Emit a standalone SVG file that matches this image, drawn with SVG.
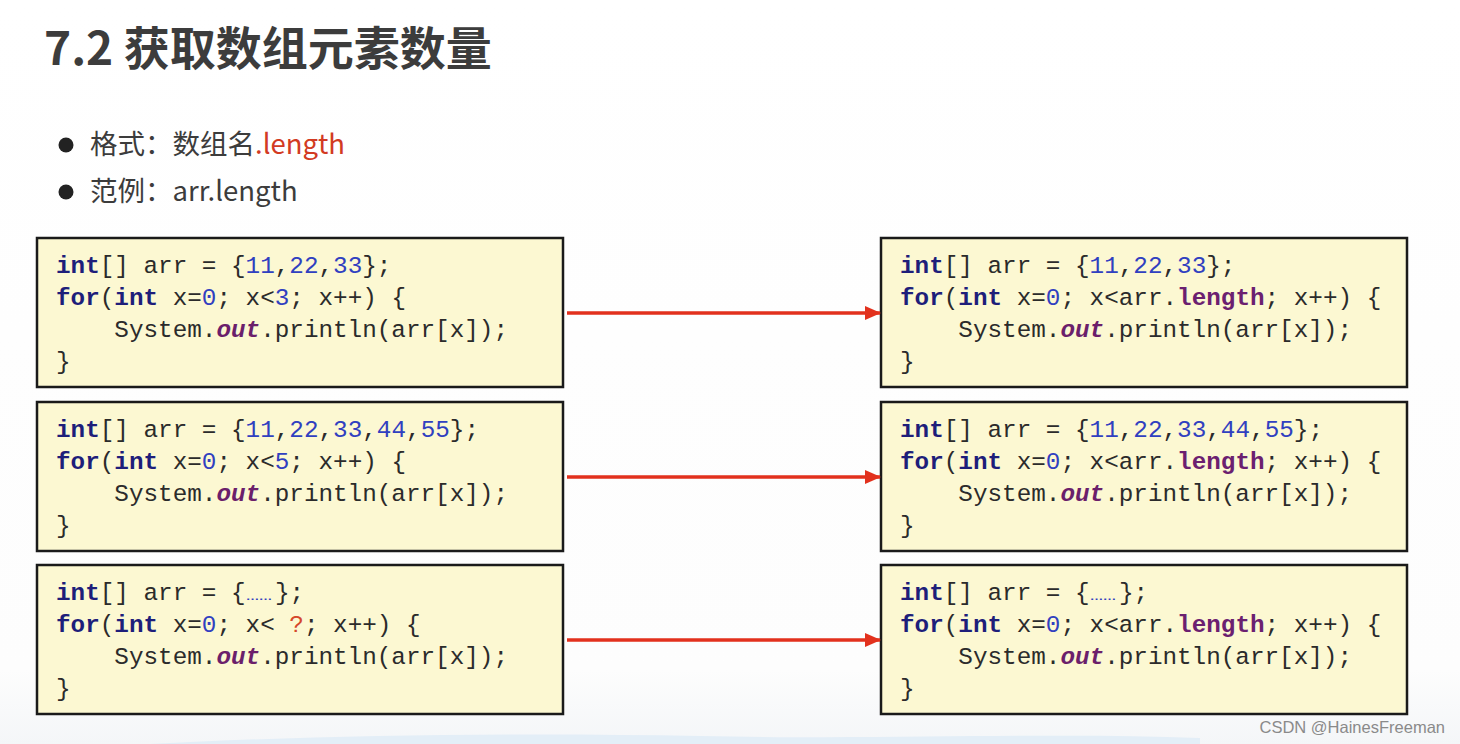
<svg xmlns="http://www.w3.org/2000/svg" width="1460" height="744" viewBox="0 0 1460 744">
<defs>
<marker id="ah" viewBox="0 0 16 14" refX="15" refY="7" markerWidth="16" markerHeight="14" markerUnits="userSpaceOnUse" orient="auto">
<path d="M0,0 L16,7 L0,14 Z" fill="#e2311d"/>
</marker>
<linearGradient id="bg" x1="0" y1="0" x2="0" y2="1">
<stop offset="0" stop-color="#ffffff"/>
<stop offset="0.9" stop-color="#fdfdfd"/>
<stop offset="1" stop-color="#f4f6f8"/>
</linearGradient>
</defs>
<style>
.box{fill:#fcf8d2;stroke:#1a1a1a;stroke-width:2.5}
.code{font-family:"Liberation Mono","DejaVu Sans Mono",monospace;font-size:24.3px;fill:#2b2b2b;white-space:pre}
.kw{fill:#1e1e7a;font-weight:bold}
.num{fill:#3040c0}
.fld{fill:#6b1f6b;font-weight:bold;font-style:italic}
.len{fill:#6b2070;font-weight:bold}
.q{fill:#d5472a}
.dots{fill:#3040c0;font-size:14px}
.conn{stroke:#e2311d;stroke-width:3.5;fill:none}
.cjk{font-family:"Noto Sans CJK SC","Noto Sans",sans-serif}
</style>
<rect width="1460" height="744" fill="url(#bg)"/>
<path d="M150,744 C300,736 500,732 700,736 C900,740 1050,732 1200,738 L1200,744 Z" fill="#e3eef7"/>

<g id="title">
<text x="44" y="65" class="cjk" font-size="46" font-weight="bold" fill="#3c3c3c">7.2 获取数组元素数量</text>
</g>
<g id="bullets">
<circle cx="66" cy="145" r="7.5" fill="#222"/>
<text x="90" y="154" class="cjk" font-size="27.5" fill="#3c3c3c">格式：数组名<tspan fill="#d23a22">.length</tspan></text>
<circle cx="66" cy="192" r="7.5" fill="#222"/>
<text x="90" y="201" class="cjk" font-size="27.5" fill="#3c3c3c">范例：arr.length</text>
</g>

<g id="left1">
<rect class="box" x="37" y="238" width="526" height="149"/>
<text class="code" xml:space="preserve"><tspan x="56" y="273"><tspan class="kw">int</tspan>[] arr = {<tspan class="num">11</tspan>,<tspan class="num">22</tspan>,<tspan class="num">33</tspan>};</tspan><tspan x="56" y="305"><tspan class="kw">for</tspan>(<tspan class="kw">int</tspan> x=<tspan class="num">0</tspan>; x&lt;<tspan class="num">3</tspan>; x++) {</tspan><tspan x="56" y="337">    System.<tspan class="fld">out</tspan>.println(arr[x]);</tspan><tspan x="56" y="369">}</tspan></text>
</g>
<g id="right1">
<rect class="box" x="881" y="238" width="526" height="149"/>
<text class="code" xml:space="preserve"><tspan x="900" y="273"><tspan class="kw">int</tspan>[] arr = {<tspan class="num">11</tspan>,<tspan class="num">22</tspan>,<tspan class="num">33</tspan>};</tspan><tspan x="900" y="305"><tspan class="kw">for</tspan>(<tspan class="kw">int</tspan> x=<tspan class="num">0</tspan>; x&lt;arr.<tspan class="len">length</tspan>; x++) {</tspan><tspan x="900" y="337">    System.<tspan class="fld">out</tspan>.println(arr[x]);</tspan><tspan x="900" y="369">}</tspan></text>
</g>

<g id="left2">
<rect class="box" x="37" y="402" width="526" height="149"/>
<text class="code" xml:space="preserve"><tspan x="56" y="437"><tspan class="kw">int</tspan>[] arr = {<tspan class="num">11</tspan>,<tspan class="num">22</tspan>,<tspan class="num">33</tspan>,<tspan class="num">44</tspan>,<tspan class="num">55</tspan>};</tspan><tspan x="56" y="469"><tspan class="kw">for</tspan>(<tspan class="kw">int</tspan> x=<tspan class="num">0</tspan>; x&lt;<tspan class="num">5</tspan>; x++) {</tspan><tspan x="56" y="501">    System.<tspan class="fld">out</tspan>.println(arr[x]);</tspan><tspan x="56" y="533">}</tspan></text>
</g>
<g id="right2">
<rect class="box" x="881" y="402" width="526" height="149"/>
<text class="code" xml:space="preserve"><tspan x="900" y="437"><tspan class="kw">int</tspan>[] arr = {<tspan class="num">11</tspan>,<tspan class="num">22</tspan>,<tspan class="num">33</tspan>,<tspan class="num">44</tspan>,<tspan class="num">55</tspan>};</tspan><tspan x="900" y="469"><tspan class="kw">for</tspan>(<tspan class="kw">int</tspan> x=<tspan class="num">0</tspan>; x&lt;arr.<tspan class="len">length</tspan>; x++) {</tspan><tspan x="900" y="501">    System.<tspan class="fld">out</tspan>.println(arr[x]);</tspan><tspan x="900" y="533">}</tspan></text>
</g>

<g id="left3">
<rect class="box" x="37" y="565" width="526" height="149"/>
<text class="code" xml:space="preserve"><tspan x="56" y="600"><tspan class="kw">int</tspan>[] arr = {</tspan><tspan class="dots" x="246" y="600" textLength="26" lengthAdjust="spacingAndGlyphs">……</tspan><tspan x="275" y="600">};</tspan><tspan x="56" y="632"><tspan class="kw">for</tspan>(<tspan class="kw">int</tspan> x=<tspan class="num">0</tspan>; x&lt; <tspan class="q">?</tspan>; x++) {</tspan><tspan x="56" y="664">    System.<tspan class="fld">out</tspan>.println(arr[x]);</tspan><tspan x="56" y="696">}</tspan></text>
</g>
<g id="right3">
<rect class="box" x="881" y="565" width="526" height="149"/>
<text class="code" xml:space="preserve"><tspan x="900" y="600"><tspan class="kw">int</tspan>[] arr = {</tspan><tspan class="dots" x="1090" y="600" textLength="26" lengthAdjust="spacingAndGlyphs">……</tspan><tspan x="1119" y="600">};</tspan><tspan x="900" y="632"><tspan class="kw">for</tspan>(<tspan class="kw">int</tspan> x=<tspan class="num">0</tspan>; x&lt;arr.<tspan class="len">length</tspan>; x++) {</tspan><tspan x="900" y="664">    System.<tspan class="fld">out</tspan>.println(arr[x]);</tspan><tspan x="900" y="696">}</tspan></text>
</g>

<g id="connectors">
<line class="conn" x1="567" y1="313" x2="880" y2="313" marker-end="url(#ah)"/>
<line class="conn" x1="567" y1="477" x2="880" y2="477" marker-end="url(#ah)"/>
<line class="conn" x1="567" y1="640" x2="880" y2="640" marker-end="url(#ah)"/>
</g>

<text x="1445" y="733" text-anchor="end" font-family="Liberation Sans, sans-serif" font-size="16.5" fill="#8a8a8a">CSDN @HainesFreeman</text>
</svg>
